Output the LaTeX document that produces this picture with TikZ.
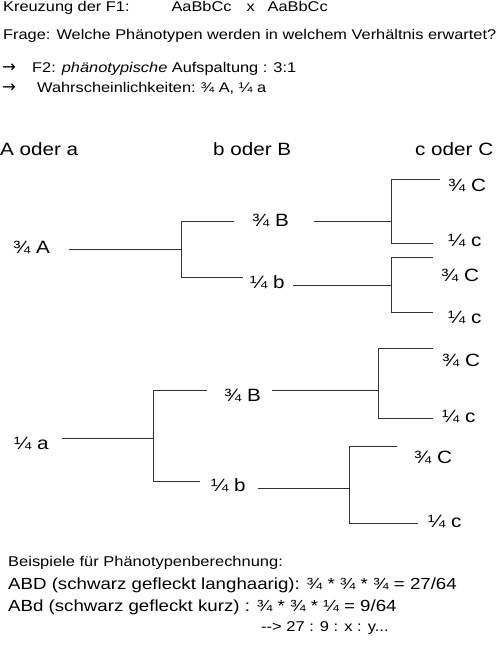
\documentclass[tikz,border=0pt]{standalone}
\usepackage{fontspec}
\setmainfont{Liberation Sans}[FakeStretch=1.16]
\newfontfamily\arrowfont{DejaVu Sans}
\begin{document}
\begin{tikzpicture}[x=1pt,y=-1pt]
\tikzset{
  ln/.style={draw=black!80, line width=1pt},
  hd/.style={anchor=base west, inner sep=0pt, text=black, font=\fontsize{14.1}{16}\selectfont},
  tl/.style={anchor=base west, inner sep=0pt, text=black, font=\fontsize{17.8}{20}\selectfont},
  bt/.style={anchor=base west, inner sep=0pt, text=black, font=\fontsize{14.2}{16}\selectfont},
  bb/.style={anchor=base west, inner sep=0pt, text=black, font=\fontsize{16.1}{18}\selectfont}
}
\fill[white] (0,0) rectangle (500,657);
\useasboundingbox (0,0) rectangle (500,657);

% header
\node[hd] (h1) at (3,11) {Kreuzung der F1:\hspace{42pt}AaBbCc\hspace{15pt}x\hspace{13pt}AaBbCc};
\node[hd] (h2) at (3,39) {Frage: Welche Phänotypen werden in welchem Verhältnis erwartet?};
\node[hd] (h3) at (2,72) {\makebox[30pt][l]{\arrowfont\fontsize{16.5}{16}\selectfont →}F2: \textit{phänotypische} Aufspaltung : 3:1};
\node[hd] (h4) at (2,92) {\makebox[35pt][l]{\arrowfont\fontsize{16.5}{16}\selectfont →}Wahrscheinlichkeiten:\hspace{5pt}¾ A, ¼ a};

% column titles
\node[tl] (ca) at (0,155) {A oder a};
\node[tl] (cb) at (213,155) {b oder B};
\node[tl] (cc) at (415,155) {c oder C};

% tree 1
\node[tl] (A1) at (13,253) {¾ A};
\node[tl] (B1) at (252,226) {¾ B};
\node[tl] (b1) at (250,288) {¼ b};
\node[tl] (C11) at (448,191) {¾ C};
\node[tl] (c11) at (448,246) {¼ c};
\node[tl] (C12) at (441,281) {¾ C};
\node[tl] (c12) at (448,323) {¼ c};

% tree 2
\node[tl] (a2) at (14,449) {¼ a};
\node[tl] (B2) at (224,401) {¾ B};
\node[tl] (b2) at (211,491) {¼ b};
\node[tl] (C21) at (442,366) {¾ C};
\node[tl] (c21) at (442,422) {¼ c};
\node[tl] (C22) at (414,463) {¾ C};
\node[tl] (c22) at (428,527) {¼ c};

% connector end points
\coordinate (A1o) at (69,249);   \coordinate (jA1) at (181,249);
\coordinate (B1i) at (234,221);  \coordinate (b1i) at (243,277);
\coordinate (B1o) at (314,221);  \coordinate (jB1) at (391,221);
\coordinate (C11i) at (440,179); \coordinate (c11i) at (433,243);
\coordinate (b1o) at (293,285);  \coordinate (jb1) at (391,285);
\coordinate (C12i) at (433,257); \coordinate (c12i) at (433,312);

\coordinate (a2o) at (62,438);   \coordinate (ja2) at (153,438);
\coordinate (B2i) at (207,390);  \coordinate (b2i) at (200,481);
\coordinate (B2o) at (272,390);  \coordinate (jB2) at (378,390);
\coordinate (C21i) at (433,348); \coordinate (c21i) at (433,418);
\coordinate (b2o) at (258,488);  \coordinate (jb2) at (349,488);
\coordinate (C22i) at (397,446); \coordinate (c22i) at (418,523);

% connectors
\draw[ln] (A1o) -| (jA1) |- (B1i);
\draw[ln] (A1o) -| (jA1) |- (b1i);
\draw[ln] (B1o) -| (jB1) |- (C11i);
\draw[ln] (B1o) -| (jB1) |- (c11i);
\draw[ln] (b1o) -| (jb1) |- (C12i);
\draw[ln] (b1o) -| (jb1) |- (c12i);

\draw[ln] (a2o) -| (ja2) |- (B2i);
\draw[ln] (a2o) -| (ja2) |- (b2i);
\draw[ln] (B2o) -| (jB2) |- (C21i);
\draw[ln] (B2o) -| (jB2) |- (c21i);
\draw[ln] (b2o) -| (jb2) |- (C22i);
\draw[ln] (b2o) -| (jb2) |- (c22i);

% bottom
\node[bt] (e0) at (8,566) {Beispiele für Phänotypenberechnung:};
\node[bb] (e1) at (8,589) {ABD (schwarz gefleckt langhaarig): ¾ * ¾ * ¾ = 27/64};
\node[bb] (e2) at (8,611) {ABd (schwarz gefleckt kurz) : ¾ * ¾ * ¼ = 9/64};
\node[bt] (e3) at (261,631) {-{}-> 27 : 9 : x : y...};
\end{tikzpicture}
\end{document}
